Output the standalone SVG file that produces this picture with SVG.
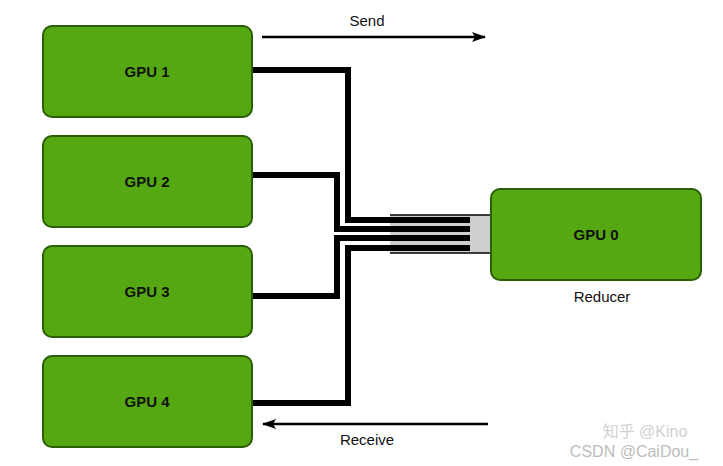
<svg xmlns="http://www.w3.org/2000/svg" width="723" height="466" viewBox="0 0 723 466">
<style>
.box{fill:#56a812;stroke:#2a5e02;stroke-width:2}
.lbl{font-family:"Liberation Sans",Arial,sans-serif;font-size:15px;font-weight:bold;fill:#111;text-anchor:middle}
.t{font-family:"Liberation Sans",Arial,sans-serif;font-size:15px;fill:#111}
.w{fill:none;stroke:#000;stroke-width:6;stroke-linejoin:miter}
</style>
<defs><marker id="ah" markerWidth="14" markerHeight="10" refX="13" refY="5" orient="auto" markerUnits="userSpaceOnUse"><path d="M0,0 L14,5 L0,10 L3,5 Z" fill="#000"/></marker></defs>
<rect width="723" height="466" fill="#fff"/>
<g id="connectors">
<rect x="390" y="215" width="102" height="38" fill="#cfcfcf"/>
<line x1="390" y1="215" x2="492" y2="215" stroke="#000" stroke-width="1.5"/>
<line x1="390" y1="253" x2="492" y2="253" stroke="#000" stroke-width="1.5"/>
<path class="w" d="M252,70 H348 V220 H470"/>
<path class="w" d="M252,175 H337 V229 H470"/>
<path class="w" d="M252,296 H337 V238 H470"/>
<path class="w" d="M252,403 H348 V248 H470"/>
<line x1="262" y1="37" x2="485" y2="37" stroke="#000" stroke-width="2.5" marker-end="url(#ah)"/>
<line x1="488" y1="424" x2="263" y2="424" stroke="#000" stroke-width="2.5" marker-end="url(#ah)"/>
</g>
<g id="gpu1"><rect class="box" x="43" y="26" width="209" height="91" rx="9"/><text class="lbl" x="147" y="77">GPU 1</text></g>
<g id="gpu2"><rect class="box" x="43" y="136" width="209" height="91" rx="9"/><text class="lbl" x="147" y="187">GPU 2</text></g>
<g id="gpu3"><rect class="box" x="43" y="246" width="209" height="91" rx="9"/><text class="lbl" x="147" y="297">GPU 3</text></g>
<g id="gpu4"><rect class="box" x="43" y="356" width="209" height="91" rx="9"/><text class="lbl" x="147" y="407">GPU 4</text></g>
<g id="gpu0"><rect class="box" x="491" y="189" width="210" height="91" rx="9"/><text class="lbl" x="596" y="240">GPU 0</text></g>
<text class="t" x="367" y="26" text-anchor="middle">Send</text>
<text class="t" x="367" y="445" text-anchor="middle">Receive</text>
<text class="t" x="602" y="302" text-anchor="middle">Reducer</text>
<text x="645" y="437" font-family="Liberation Sans,Noto Sans CJK SC,sans-serif" font-size="16" fill="#d0d0d0" text-anchor="middle">知乎 @Kino</text>
<text x="634" y="457" font-family="Liberation Sans,sans-serif" font-size="16" fill="#bdbdbd" text-anchor="middle">CSDN @CaiDou_</text>
</svg>
